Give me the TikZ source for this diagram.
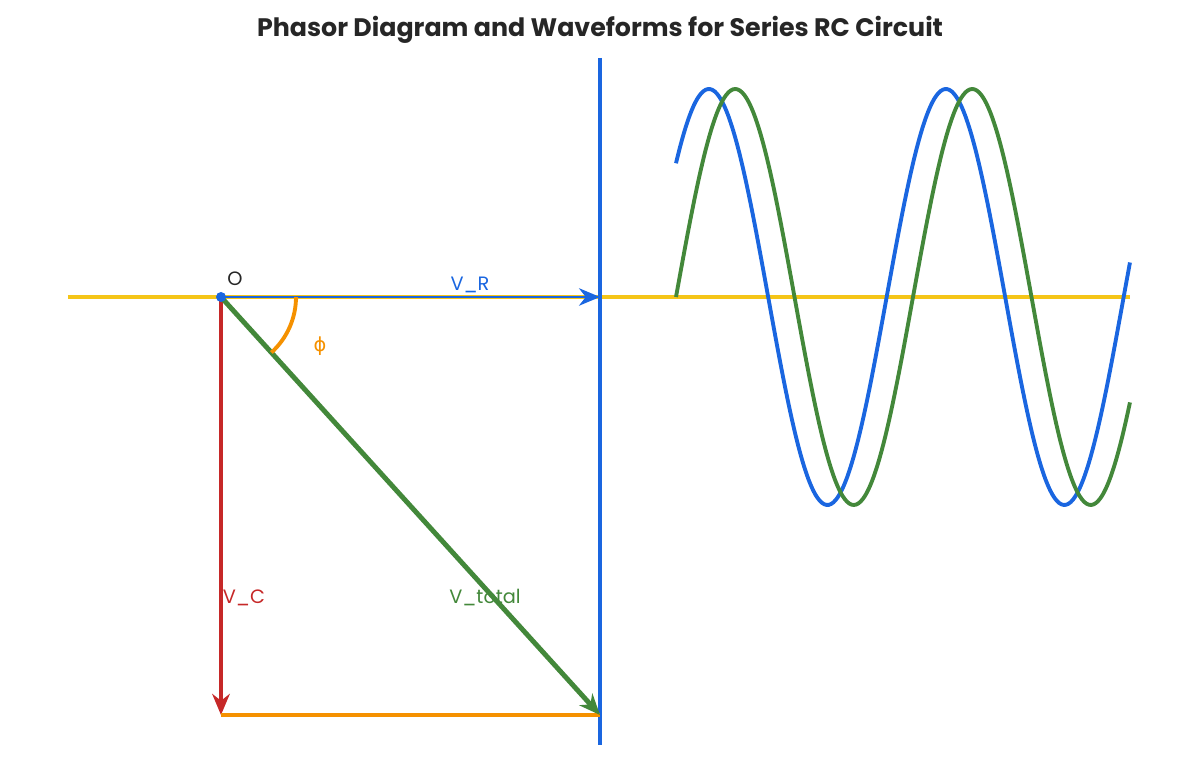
\documentclass[tikz,border=0pt]{standalone}
\usepackage{fontspec}
\setmainfont{Poppins}
\newfontfamily\greekfont{DejaVu Sans}
\usetikzlibrary{positioning,calc,arrows.meta}
\definecolor{axisyellow}{HTML}{F5C518}
\definecolor{rblue}{HTML}{1A66E0}
\definecolor{cred}{HTML}{C62828}
\definecolor{tgreen}{HTML}{43883A}
\definecolor{phiorange}{HTML}{F59100}
\tikzset{
	axis/.style={color=axisyellow, line width=1.1pt},
	vline/.style={color=rblue, line width=1.1pt},
	phasor/.style={->,>={Stealth[width=5pt,length=6pt]}, line width=1.4pt},
	wave/.style={line width=1.1pt, samples=200, smooth},
	lab/.style={font=\fontsize{5.5}{6}\selectfont, inner sep=0pt}
}
\begin{document}
\begin{tikzpicture}
		\useasboundingbox (0,0) rectangle (12,-7.63);
		\node [font=\fontsize{7.2}{8}\selectfont\bfseries, color=black!85] (title) at (6,-0.3) {Phasor Diagram and Waveforms for Series RC Circuit};

		\coordinate (O) at (2.21,-2.97);
		\coordinate (R) at (6.00,-2.97);
		\coordinate (C) at (2.21,-7.15);
		\coordinate (T) at (6.00,-7.15);
		\coordinate (axl) at (0.68,-2.97);
		\coordinate (axr) at (11.30,-2.97);
		\coordinate (vtop) at (6.00,-0.58);
		\coordinate (vbot) at (6.00,-7.45);

		\draw [axis] (axl) to (axr);
		\draw [vline] (vtop) to (vbot);
		\draw [phasor, line width=0.6pt, rblue] (O) to (R);
		\draw [phasor, cred] (O) to (C);
		\draw [phiorange, line width=1.1pt] (C) to (T);
		\draw [phasor, tgreen] (O) to (T);
		\draw [phiorange, line width=1.1pt] ($(O)+(0.75,0)$) arc [start angle=0, end angle=-47.8, radius=0.75];
		\fill [rblue] (O) circle [radius=0.05];

		\node [lab, color=black!85] (olab) at (2.35,-2.79) {O};
		\node [lab, color=rblue] (vrlab) at (4.70,-2.85) {V\_R};
		\node [lab, color=phiorange] (philab) at (3.20,-3.46) {\greekfont ϕ};
		\node [lab, color=cred] (vclab) at (2.44,-5.98) {V\_C};
		\node [lab, color=tgreen] (vtlab) at (4.85,-5.98) {V\_total};

		% waveforms
		\draw [wave, rblue] plot [domain=6.76:11.30] (\x,{-2.97+2.08*sin((\x-6.76)/2.37*360+40)});
		\draw [wave, tgreen] plot [domain=6.76:11.30] (\x,{-2.97+2.08*sin((\x-6.76)/2.37*360)});
\end{tikzpicture}
\end{document}
